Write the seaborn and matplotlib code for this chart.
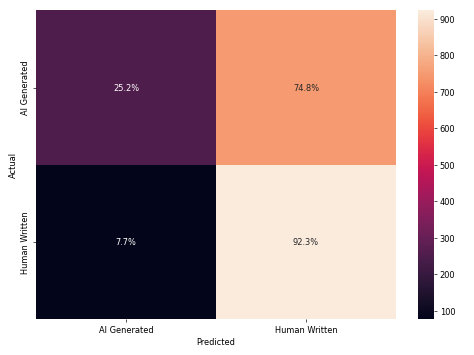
import matplotlib
matplotlib.use("Agg")
import matplotlib.pyplot as plt
import seaborn as sns
import numpy as np

# confusion matrix (counts), rows = actual, cols = predicted
labels = ["AI Generated", "Human Written"]
counts = np.array([[252, 748],
                   [77, 923]])

# row-normalised percentages for the annotations
pct = counts / counts.sum(axis=1, keepdims=True) * 100
annot = np.array([[f"{v:.1f}%" for v in row] for row in pct])

W, H = 474, 359
fig = plt.figure(figsize=(8, 6), dpi=59.25)
ax = fig.add_axes([36 / W, 1 - 323 / H, 360 / W, 312 / H])
cax = fig.add_axes([418 / W, 1 - 323 / H, 16 / W, 312 / H])
sns.heatmap(counts, annot=annot, fmt="", cmap="rocket",
            xticklabels=labels, yticklabels=labels, ax=ax, cbar_ax=cax)
ax.set_xlabel("Predicted")
ax.set_ylabel("Actual")
plt.savefig("out.png", dpi=59.25)
